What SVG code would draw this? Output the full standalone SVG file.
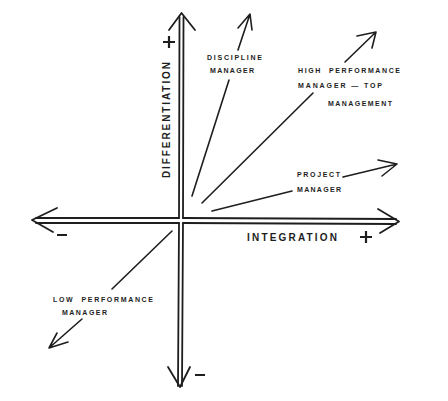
<svg xmlns="http://www.w3.org/2000/svg" width="448" height="401" viewBox="0 0 448 401">
<style>
.ax{stroke:#1e1e1e;stroke-width:1.8;fill:none;stroke-linecap:round;stroke-linejoin:round}
.ln{stroke:#1e1e1e;stroke-width:1.6;fill:none;stroke-linecap:round;stroke-linejoin:round}
.sgn{stroke:#1e1e1e;stroke-width:2.2;fill:none;stroke-linecap:butt}
.lb{font-family:"Liberation Sans",Arial,sans-serif;font-size:7px;font-weight:bold;fill:#1e1e1e;white-space:pre}
.big{font-family:"Liberation Sans",Arial,sans-serif;font-size:10px;font-weight:bold;fill:#1e1e1e}
</style>
<rect width="448" height="401" fill="#ffffff"/>
<g id="axes">
  <path class="ax" d="M179.5 17 L179 218 M183.5 17 L183 218 M179 223 L178 386 M183 223 L182 386"/>
  <path class="ax" d="M169 30 L181.5 13 L195 30"/>
  <path class="ax" d="M168 367 L180 387 L190 367"/>
  <path class="ax" d="M36 218 L179 218 M36 223 L179 223 M183 218 L396 219 M183 223 L396 224"/>
  <path class="ax" d="M378 209 L399 221.5 L380 233"/>
  <path class="ax" d="M57 208 L32 220 L53 232"/>
</g>
<g id="axis-labels">
  <text class="big" x="166" y="120" text-anchor="middle" transform="rotate(-90 166 120)" dy="3.5" textLength="116" lengthAdjust="spacing">DIFFERENTIATION</text>
  <text class="big" x="247" y="241" textLength="90" lengthAdjust="spacing">INTEGRATION</text>
  <path class="sgn" d="M163 42 L175 42 M169 36 L169 48"/>
  <path class="sgn" d="M360 237 L372 237 M366 231 L366 243"/>
  <path class="sgn" d="M57 235 L67 235 M195 375 L205 375"/>
</g>
<g id="discipline-manager">
  <text class="lb" x="207" y="60" textLength="55" lengthAdjust="spacing">DISCIPLINE</text>
  <text class="lb" x="210" y="73" textLength="44" lengthAdjust="spacing">MANAGER</text>
</g>
<g id="high-performance-manager">
  <text class="lb" x="298" y="73" textLength="102" lengthAdjust="spacing">HIGH  PERFORMANCE</text>
  <text class="lb" x="298" y="88" textLength="84" lengthAdjust="spacing">MANAGER — TOP</text>
  <text class="lb" x="328" y="106" textLength="64" lengthAdjust="spacing">MANAGEMENT</text>
</g>
<g id="project-manager">
  <text class="lb" x="297" y="177" textLength="43" lengthAdjust="spacing">PROJECT</text>
  <text class="lb" x="297" y="192" textLength="44" lengthAdjust="spacing">MANAGER</text>
</g>
<g id="low-performance-manager">
  <text class="lb" x="53" y="302" textLength="100" lengthAdjust="spacing">LOW  PERFORMANCE</text>
  <text class="lb" x="62" y="315" textLength="45" lengthAdjust="spacing">MANAGER</text>
</g>
<g id="connectors">
  <path class="ln" d="M192 196 L229 80 M238 50 L250 14 M238 28 L250 14 L252 30"/>
  <path class="ln" d="M202 203 L313 93 M345 62 L376 32 M357 36 L376 32 L372 48"/>
  <path class="ln" d="M212 211 L292 191 M343 177 L397 164 M378 160 L397 164 L382 176"/>
  <path class="ln" d="M172 231 L112 289 M82 319 L49 348 M57 333 L49 348 L68 342"/>
</g>
</svg>
